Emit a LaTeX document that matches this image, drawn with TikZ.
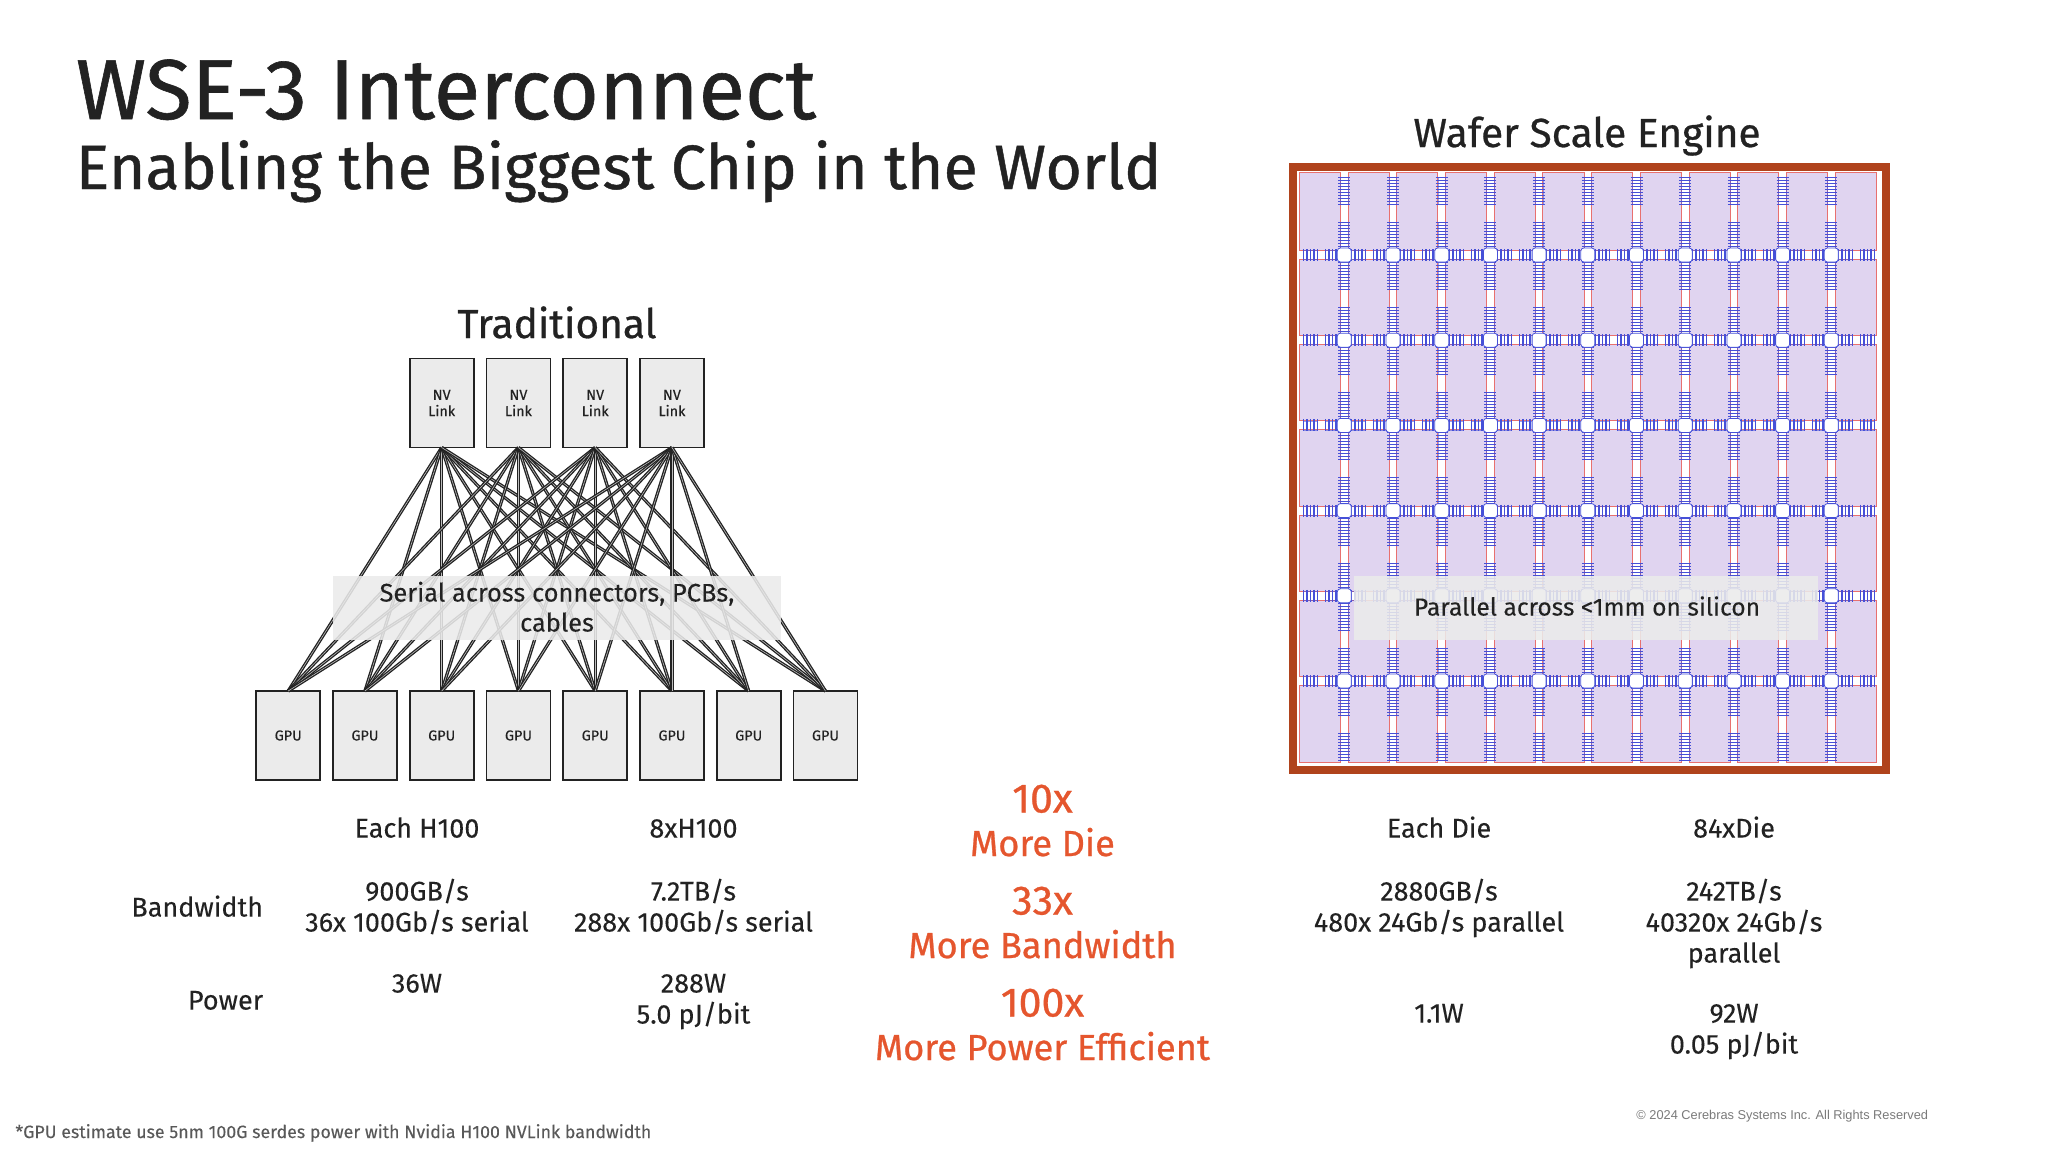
\documentclass[tikz,border=0pt]{standalone}
\usepackage{fontspec}
\setmainfont{Fira Sans}[FakeBold=0.12]
\newfontfamily\medf{Fira Sans}[FakeBold=0.7]
\newfontfamily\cpfont{Liberation Sans}
\definecolor{ink}{HTML}{222222}
\definecolor{accent}{HTML}{E5562E}
\definecolor{framec}{HTML}{B0431C}
\definecolor{dief}{HTML}{E0D4F0}
\definecolor{dier}{HTML}{E8706F}
\definecolor{wire}{HTML}{4650D8}
\definecolor{boxf}{HTML}{EBEBEB}
\tikzset{
 x=0.5pt,y=-0.5pt,
 txt/.style={anchor=base,inner sep=0,text=ink,font=\fontsize{13.5}{15.5}\selectfont,align=center},
 big/.style={anchor=base,inner sep=0,text=accent,font=\medf\fontsize{20.5}{22}\selectfont,align=center},
 mid/.style={anchor=base,inner sep=0,text=accent,font=\medf\fontsize{18.1}{20}\selectfont,align=center},
 head/.style={anchor=base,inner sep=0,text=ink,font=\medf\fontsize{20.3}{22}\selectfont,align=center},
 rl/.style={txt,anchor=base east},
 unitbox/.style={draw=ink,line width=0.95pt,fill=boxf,minimum width=32pt,minimum height=44.5pt,inner sep=0,outer sep=0,text=ink,font=\fontsize{7.2}{8.2}\selectfont,align=center},
 fan/.style={draw=ink,line width=0.65pt,double=ink!30,double distance=0.3pt},
 veil/.style={fill=#1,fill opacity=0.88,draw=none},
 rail/.style={draw=wire,line width=0.4pt,draw opacity=0.55},
 bar/.style={draw=wire,line width=0.6pt},
}
\begin{document}
\begin{tikzpicture}
\useasboundingbox (0,0) rectangle (2048,1152);
\fill[white] (0,0) rectangle (2048,1152);
% titles
\node[anchor=base west,inner sep=0,text=ink,font=\medf\fontsize{42.5}{44}\selectfont] (t1) at (75.5,119) {WSE-3 Interconnect};
\node[anchor=base west,inner sep=0,text=ink,font=\medf\fontsize{31.3}{34}\selectfont] (t2) at (75.5,189) {Enabling the Biggest Chip in the World};
\node[head] (trad) at (557,338) {Traditional};
\node[head] (wafer) at (1587,147) {Wafer Scale Engine};
% traditional boxes
\foreach \i/\x in {1/441.7,2/518.45,3/595.2,4/671.95}
  \node[unitbox] (nv\i) at (\x,403) {NV\\Link};
\foreach \i/\x in {1/288.2,2/364.95,3/441.7,4/518.45,5/595.2,6/671.95,7/748.7,8/825.45}
  \node[unitbox] (gpu\i) at (\x,735.5) {GPU};
\foreach \a in {1,2,3,4}
  \foreach \b in {1,...,8}
    \draw[fan] (nv\a.south) -- (gpu\b.north);
\fill[veil=boxf] (332.5,576) rectangle (781,640);
\node[txt,font=\fontsize{12.7}{15}\selectfont] (serial) at (557,631.5) {Serial across connectors, PCBs,\\cables};
% wafer
\draw[framec,line width=3.75pt] (1293,167) rectangle (1886,770);
\foreach \c in {0,...,11}
  \foreach \r in {0,...,6}
    \draw[dier,fill=dief,line width=0.5pt]
      ({\c==0 ? 1299 : 1295.6+48.7*\c+3.8},{\r==0 ? 172.7 : 169.8+85.2*\r+4.5})
      rectangle
      ({\c==11 ? 1876 : 1295.6+48.7*(\c+1)-3.8},{\r==6 ? 762 : 169.8+85.2*(\r+1)-4.5});
% vertical ladders
\foreach \c in {1,...,11}
  \foreach \r in {0,...,6}
    \foreach \s in {7,52}{
      \pgfmathsetmacro\xc{1295.6+48.7*\c}
      \pgfmathsetmacro\ya{round(169.8+85.2*\r+\s)+0.5}
      \draw[rail] (\xc-3.8,\ya) -- ++(0,27) (\xc+3.8,\ya) -- ++(0,27);
      \foreach \k in {0,...,9}
        \draw[bar] (\xc-6,\ya+3*\k) -- ++(12,0);
    }
% horizontal ladders
\foreach \r in {1,...,6}
  \foreach \c in {0,...,11}
    \foreach \s in {7,29}{
      \pgfmathsetmacro\ya{169.8+85.2*\r}
      \pgfmathsetmacro\xa{round(1295.6+48.7*\c+\s)+0.5}
      \draw[rail] (\xa,\ya-4.5) -- ++(14,0) (\xa,\ya+4.5) -- ++(14,0);
      \foreach \k in {0,...,4}
        \draw[bar] (\xa+3.5*\k,\ya-6) -- ++(0,12);
    }
% junctions
\foreach \c in {1,...,11}
  \foreach \r in {1,...,6}
    \draw[wire,fill=white,line width=0.4pt,rounded corners=1.5pt]
      ({1295.6+48.7*\c-7},{169.8+85.2*\r-7}) rectangle ++(14,14);
\fill[veil=boxf] (1354,576) rectangle (1818,640);
\node[txt,font=\fontsize{12.3}{15}\selectfont] (par) at (1587,615.5) {Parallel across <1mm on silicon};
% table left
\node[txt] (h1) at (417,837.5) {Each H100};
\node[txt] (h2) at (693.5,837.5) {8xH100};
\node[rl] (bw) at (263.5,916.5) {Bandwidth};
\node[rl] (pw) at (263.5,1009.5) {Power};
\node[txt] (a1) at (417,900.5) {900GB/s};
\node[txt] (a2) at (417,931.5) {36x 100Gb/s serial};
\node[txt] (b1) at (693.5,900.5) {7.2TB/s};
\node[txt] (b2) at (693.5,931.5) {288x 100Gb/s serial};
\node[txt] (c1) at (417,992.5) {36W};
\node[txt] (d1) at (693.5,992.5) {288W};
\node[txt] (d2) at (693.5,1023.5) {5.0 pJ/bit};
% centre
\node[big] (m1) at (1042.5,812.5) {10x};
\node[mid] (m2) at (1042.5,856) {More Die};
\node[big] (m3) at (1042.5,914.5) {33x};
\node[mid] (m4) at (1042.5,958) {More Bandwidth};
\node[big] (m5) at (1042.5,1016.5) {100x};
\node[mid] (m6) at (1042.5,1060) {More Power Efficient};
% right
\node[txt] (e1) at (1439,837.5) {Each Die};
\node[txt] (e2) at (1734,837.5) {84xDie};
\node[txt] (f1) at (1439,900.5) {2880GB/s};
\node[txt] (f2) at (1439,931.5) {480x 24Gb/s parallel};
\node[txt] (g1) at (1734,900.5) {242TB/s};
\node[txt] (g2) at (1734,931.5) {40320x 24Gb/s};
\node[txt] (g3) at (1734,962.5) {parallel};
\node[txt] (j1) at (1439,1022.5) {1.1W};
\node[txt] (k1) at (1734,1022.5) {92W};
\node[txt] (k2) at (1734,1053.5) {0.05 pJ/bit};
% footer
\node[anchor=base west,inner sep=0,text=ink!75,font=\fontsize{8.9}{10}\selectfont] (fn) at (15,1138) {*GPU estimate use 5nm 100G serdes power with Nvidia H100 NVLink bandwidth};
\node[anchor=base west,inner sep=0,text=ink!60,font=\cpfont\fontsize{6.4}{8}\selectfont] (cp) at (1636,1119) {© 2024 Cerebras Systems Inc. All Rights Reserved};
\end{tikzpicture}
\end{document}
